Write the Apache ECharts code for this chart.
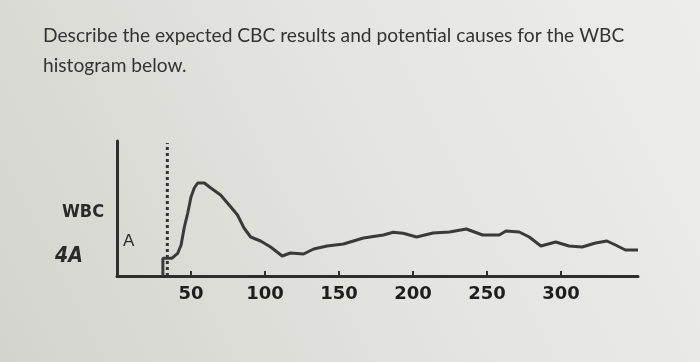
<!DOCTYPE html>
<html>
<head>
<meta charset="utf-8">
<script src="https://cdn.jsdelivr.net/npm/echarts@6/dist/echarts.min.js"></script>
<style>
html,body{margin:0;padding:0;}
#c{width:700px;height:362px;}
</style>
</head>
<body>
<div id="c"></div>
<script>
// WBC histogram trace: [cell size (fL), relative height]
var curveSize = [31, 31, 37, 41, 43.3, 45.5, 47.8, 50, 52.2, 54.5, 59, 63.4, 70, 76.9, 81.4, 85.8, 90.3, 97, 103.8, 111.6, 117.2, 126, 132.9, 141.9, 153, 166.5, 180, 186.6, 193.3, 202.4, 213.5, 224.7, 236, 247, 258.3, 262.8, 271.8, 278.5, 286.4, 296.4, 305.4, 314.3, 323.3, 331, 336.8, 343.5, 352];
var curveHeight = [0, 17.7, 17.7, 22.7, 31, 49, 63, 79, 88, 93, 93, 88, 81, 69, 61, 48, 39, 35, 29, 20, 23, 22, 27, 30, 32, 38, 41, 43.7, 42.7, 39, 43, 44, 47, 41, 41, 45, 44, 39, 30, 34, 30, 29, 33, 35, 31, 26, 26];
var discriminatorSize = [34, 34];
var discriminatorHeight = [0, 133];
var tickLabels = [50, 100, 150, 200, 250, 300];

var curve = curveSize.map(function (x, i) { return [x, curveHeight[i]]; });
var disc = discriminatorSize.map(function (x, i) { return [x, discriminatorHeight[i]]; });

var chart = echarts.init(document.getElementById('c'));
chart.setOption({
  animation: false,
  backgroundColor: {
    type: 'linear', x: 0, y: 1, x2: 1, y2: 0,
    colorStops: [{offset: 0, color: '#d4d4ce'}, {offset: 0.5, color: '#e3e3df'}, {offset: 1, color: '#ededeb'}]
  },
  grid: {left: 117, right: 62, top: 141, bottom: 86},
  xAxis: {
    type: 'value', min: 0, max: 352, interval: 50,
    splitLine: {show: false},
    axisLine: {show: true, lineStyle: {color: '#2e2e2e', width: 3}},
    axisTick: {show: true, inside: true, length: 5, customValues: tickLabels, lineStyle: {color: '#2e2e2e', width: 2}},
    axisLabel: {
      customValues: tickLabels, margin: 9,
      color: '#1e1e1e', fontSize: 18, fontWeight: 'bold', fontFamily: 'DejaVu Sans'
    }
  },
  yAxis: {
    type: 'value', min: 0, max: 135,
    splitLine: {show: false},
    axisLine: {show: true, lineStyle: {color: '#2e2e2e', width: 3}},
    axisTick: {show: false},
    axisLabel: {show: false}
  },
  series: [
    {
      type: 'line', data: disc, symbol: 'none',
      lineStyle: {color: '#333', width: 3, type: [3, 3]}
    },
    {
      type: 'line', data: curve, symbol: 'none',
      lineStyle: {color: '#3a3a3a', width: 3}
    }
  ],
  graphic: [
    {type: 'text', left: 43, top: 26, style: {text: 'Describe the expected CBC results and potential causes for the WBC', fill: '#333', font: '19.2px Lato'}},
    {type: 'text', left: 43, top: 56, style: {text: 'histogram below.', fill: '#333', font: '19.2px Lato'}},
    {type: 'text', left: 62, top: 203, style: {text: 'WBC', fill: '#2a2a2a', font: 'bold 18px "DejaVu Sans Condensed", "DejaVu Sans"'}},
    {type: 'text', left: 55, top: 246, style: {text: '4A', fill: '#2a2a2a', font: 'italic bold 21px "DejaVu Sans Condensed", "DejaVu Sans"'}},
    {type: 'text', left: 123, top: 233, style: {text: 'A', fill: '#2a2a2a', font: '17px "Liberation Sans"'}}
  ]
});
</script>
</body>
</html>
